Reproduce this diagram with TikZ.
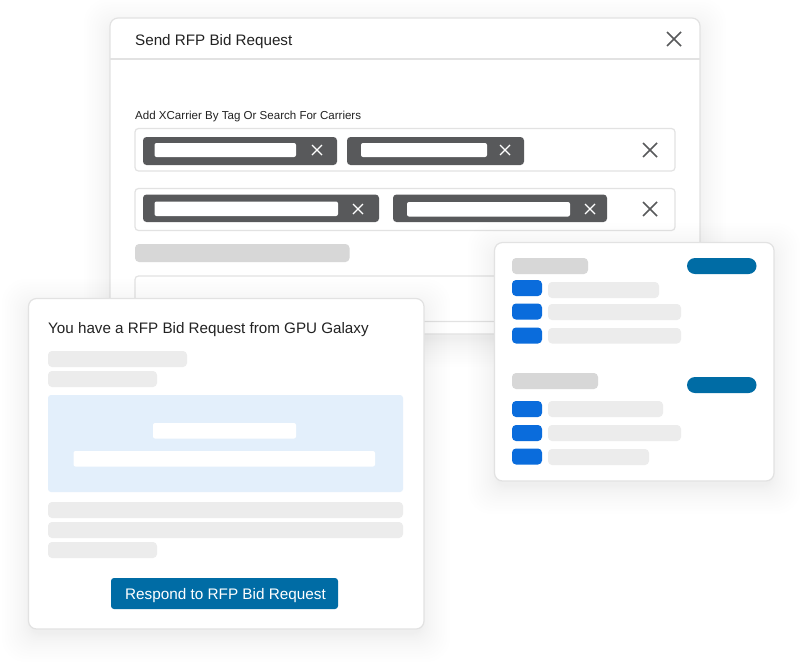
\documentclass[tikz,border=0pt]{standalone}
\usepackage{fontspec}
\setmainfont{Liberation Sans}
\definecolor{edgegray}{HTML}{E2E2E2}
\definecolor{bargray}{HTML}{D7D7D7}
\definecolor{lightbar}{HTML}{ECECEC}
\definecolor{tagdark}{HTML}{58595B}
\definecolor{steel}{HTML}{006CA5}
\definecolor{chipblue}{HTML}{0A6CDC}
\definecolor{panelblue}{HTML}{E3EFFB}
\definecolor{inktext}{HTML}{222222}
\newcommand{\softshadow}[4]{%
  \foreach \g in {1,...,16}{
    \pgfmathsetmacro{\ext}{\g*\g*0.07+\g*0.7-3}
    \fill[black,fill opacity=0.004,rounded corners=8pt+\g pt]
      ({#1-\ext},{#2-\ext+7}) rectangle ({#3+\ext},{#4+\ext+7});
  }}
\newcommand{\crossmark}[4]{%
  \draw[#4,line width=#3*0.22pt+0.1pt] ({#1-#3},{#2-#3}) -- ({#1+#3},{#2+#3}) ({#1-#3},{#2+#3}) -- ({#1+#3},{#2-#3});}
\tikzset{
  x=1pt,y=-1pt,
  card/.style={fill=white,draw=edgegray,line width=1.2pt,rounded corners=8pt},
  field/.style={fill=white,draw=edgegray,line width=1.2pt,rounded corners=3.5pt},
  tagbox/.style={fill=tagdark,rounded corners=3.5pt},
  blank/.style={fill=white,rounded corners=2pt},
  greybar/.style={fill=bargray,rounded corners=4pt},
  lightline/.style={fill=lightbar,rounded corners=4pt},
  chip/.style={fill=chipblue,rounded corners=4pt},
  pill/.style={fill=steel,rounded corners=8pt},
  label/.style={anchor=west,inner sep=0pt,text=inktext},
}
\begin{document}
\begin{tikzpicture}
\useasboundingbox[fill=white] (0,0) rectangle (800,665);
% back dialog
\softshadow{110}{18}{700}{334}
\draw[card] (110,18) rectangle (700,334);
\draw[edgegray,line width=1.2pt] (110,59) -- (700,59);
\node[label,font=\fontsize{15.2}{18}\selectfont] (dialogtitle) at (135,42) {Send RFP Bid Request};
\crossmark{674}{39}{7}{tagdark}
\node[label,font=\fontsize{11.55}{14}\selectfont] (addlabel) at (135,117) {Add XCarrier By Tag Or Search For Carriers};
\draw[field] (135,128.5) rectangle (675,171);
\fill[tagbox] (143,137) rectangle (337,165);
\fill[blank] (154.5,143) rectangle (296,157);
\crossmark{317}{150}{5}{white}
\fill[tagbox] (347,137) rectangle (524,165);
\fill[blank] (361,143) rectangle (487,157);
\crossmark{505}{150}{5}{white}
\crossmark{650}{150}{7}{tagdark}
\draw[field] (135,188.5) rectangle (675,230.5);
\fill[tagbox] (143,194.5) rectangle (379,222);
\fill[blank] (154.5,201.5) rectangle (338,216);
\crossmark{358}{209}{5}{white}
\fill[tagbox] (393,194.5) rectangle (607,222);
\fill[blank] (407,202) rectangle (570,216.5);
\crossmark{590}{209}{5}{white}
\crossmark{650}{209}{7}{tagdark}
\fill[greybar] (135,244) rectangle (349.5,262);
\draw[field] (135,276) rectangle (675,321.5);
% right card
\softshadow{494}{242}{774}{481}
\draw[card] (494.5,242.5) rectangle (774,481);
\fill[greybar] (512,258) rectangle (588,274);
\fill[pill] (687,258) rectangle (756.5,274);
\fill[chip] (512,280) rectangle (542,296);
\fill[chip] (512,303.5) rectangle (542,319.5);
\fill[chip] (512,327.5) rectangle (542,343.5);
\fill[lightline] (548,282) rectangle (659,298);
\fill[lightline] (548,304) rectangle (681,320);
\fill[lightline] (548,328) rectangle (681,343.5);
\fill[greybar] (512,373) rectangle (598,389);
\fill[pill] (687,377) rectangle (756.5,393);
\fill[chip] (512,401) rectangle (542,417);
\fill[chip] (512,425) rectangle (542,441);
\fill[chip] (512,448.5) rectangle (542,464.5);
\fill[lightline] (548,401) rectangle (663,417);
\fill[lightline] (548,425) rectangle (681,441);
\fill[lightline] (548,449) rectangle (649,465);
% left card
\softshadow{28}{298}{424}{629}
\draw[card] (28.5,298.5) rectangle (424,629);
\node[label,font=\fontsize{15.2}{18}\selectfont] (mailtitle) at (48,330) {You have a RFP Bid Request from GPU Galaxy};
\fill[lightline] (48,351) rectangle (187,367);
\fill[lightline] (48,371) rectangle (157,387);
\fill[panelblue,rounded corners=3pt] (48,395) rectangle (403,492);
\fill[blank] (153,423) rectangle (296,438.5);
\fill[blank] (73.5,451) rectangle (375,466.5);
\fill[lightline] (48,502) rectangle (403,518);
\fill[lightline] (48,522) rectangle (403,538);
\fill[lightline] (48,542) rectangle (157,558);
\fill[steel,rounded corners=3pt] (111,578) rectangle (338,609);
\node[inner sep=0pt,text=white,font=\fontsize{15.3}{18}\selectfont] (respond) at (225.5,596) {Respond to RFP Bid Request};
\end{tikzpicture}
\end{document}
